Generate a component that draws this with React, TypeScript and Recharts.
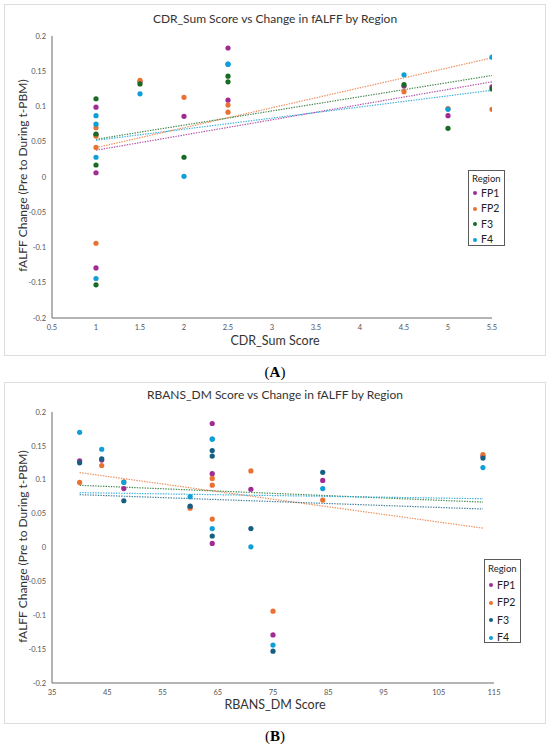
import React from 'react';
import {
  ScatterChart, Scatter, XAxis, YAxis, ReferenceLine, Legend,
} from 'recharts';

// one entry per participant, same order in every array
const regions = ['FP1', 'FP2', 'F3', 'F4'];
const cdrSum = [5.5, 4.5, 5, 1, 2.5, 2.5, 1, 2, 1, 1, 1.5];
const rbansDm = [40, 44, 48, 60, 64, 64, 64, 71, 75, 84, 113];
const fp1 = [0.128, 0.129, 0.087, 0.06, 0.183, 0.109, 0.006, 0.086, -0.129, 0.099, 0.135];
const fp2 = [0.096, 0.121, 0.097, 0.058, 0.102, 0.092, 0.042, 0.113, -0.094, 0.07, 0.137];
const f3 = [0.125, 0.131, 0.069, 0.061, 0.143, 0.135, 0.017, 0.028, -0.153, 0.111, 0.132];
const f4 = [0.17, 0.145, 0.096, 0.075, 0.16, 0.16, 0.028, 0.001, -0.144, 0.087, 0.118];
const regionValues = [fp1, fp2, f3, f4];

const yTicks = [-0.2, -0.15, -0.1, -0.05, 0, 0.05, 0.1, 0.15, 0.2];
const cdrTicks = [0.5, 1, 1.5, 2, 2.5, 3, 3.5, 4, 4.5, 5, 5.5];
const rbansTicks = [35, 45, 55, 65, 75, 85, 95, 105, 115];

// trendline end points
const cdrTrendX = [1, 5.5];
const cdrTrendFP1 = [0.038, 0.135];
const cdrTrendFP2 = [0.0416, 0.169];
const cdrTrendF3 = [0.0535, 0.144];
const cdrTrendF4 = [0.052, 0.123];
const rbansTrendX = [40, 113];
const rbansTrendOrange = [0.1106, 0.0286];
const rbansTrendGreen = [0.0918, 0.067];
const rbansTrendCyan = [0.081, 0.072];
const rbansTrendNavy = [0.078, 0.0568];

const PURPLE = '#A02B93';
const ORANGE = '#E97132';
const GREEN = '#196B24';
const NAVY = '#156082';
const CYAN = '#0F9ED5';

const FONT = 'Lato, "Noto Sans", sans-serif';

interface PanelProps {
  top: number;
  height: number;
  title: string;
  xLabel: string;
  xValues: number[];
  xDomain: [number, number];
  xTicks: number[];
  colors: string[];
  trendX: number[];
  trends: { y: number[]; color: string }[];
  margin: { top: number; right: number; bottom: number; left: number };
  titleY: number;
  xLabelY: number;
  legendBox: { left: number; top: number; width: number; height: number; row: number };
}

const RegionLegend = ({ colors, box }: { colors: string[]; box: PanelProps['legendBox'] }) => (
  <div
    style={{
      width: box.width, height: box.height, boxSizing: 'border-box',
      border: '1px solid #5a5a5a', background: '#fff', fontFamily: FONT,
      paddingLeft: 4, paddingTop: 1, color: '#222',
    }}
  >
    <div style={{ fontSize: 9.5, height: box.row - 2, lineHeight: `${box.row - 2}px`, marginLeft: -1 }}>Region</div>
    {regions.map((r, i) => (
      <div key={r} style={{ fontSize: 10.5, height: box.row, lineHeight: `${box.row}px`, display: 'flex', alignItems: 'center' }}>
        <span style={{ width: 4, height: 4, borderRadius: 2, background: colors[i], display: 'inline-block', marginRight: 4 }} />
        {r}
      </div>
    ))}
  </div>
);

const Panel = (p: PanelProps) => {
  const chartW = 540;
  const plotMid = p.margin.top + (p.height - p.margin.top - p.margin.bottom - 20) / 2;
  return (
    <div
      style={{
        position: 'absolute', left: 4, top: p.top - 1, width: chartW, height: p.height,
        border: '1px solid #dedede', background: '#fff',
      }}
    >
      <div style={{ position: 'absolute', left: 0, width: chartW, top: p.titleY - 8, textAlign: 'center', fontFamily: FONT, fontSize: 12, color: '#333' }}>
        {p.title}
      </div>
      <div style={{ position: 'absolute', left: 0, width: chartW, top: p.xLabelY - 9, textAlign: 'center', fontFamily: FONT, fontSize: 12.5, color: '#333' }}>
        {p.xLabel}
      </div>
      <div
        style={{
          position: 'absolute', left: 17 - 120, top: plotMid - 9, width: 240, textAlign: 'center',
          transform: 'rotate(-90deg)', fontFamily: FONT, fontSize: 12, color: '#333',
        }}
      >
        fALFF Change (Pre to During t-PBM)
      </div>
      <ScatterChart width={chartW} height={p.height} margin={p.margin}>
        <XAxis
          type="number" dataKey="x" domain={p.xDomain} ticks={p.xTicks} allowDataOverflow
          height={20} tickLine={false} tickSize={4} tickMargin={3}
          stroke="#6b6b6b" tick={{ fontSize: 7.5, fill: '#555', fontFamily: FONT }}
        />
        <YAxis
          type="number" dataKey="y" domain={[-0.2, 0.2]} ticks={yTicks} allowDataOverflow
          width={30} tickLine={false} tickSize={4} tickMargin={2}
          stroke="#6b6b6b" tick={{ fontSize: 7.5, fill: '#555', fontFamily: FONT }}
        />
        {p.trends.map((t, i) => (
          <ReferenceLine
            key={i}
            segment={[{ x: p.trendX[0], y: t.y[0] }, { x: p.trendX[1], y: t.y[1] }]}
            stroke={t.color} strokeOpacity={0.8} strokeWidth={1.2} strokeDasharray="1.4 1.2" ifOverflow="visible"
          />
        ))}
        {regions.map((r, i) => (
          <Scatter
            key={r}
            name={r}
            data={p.xValues.map((x, k) => ({ x, y: regionValues[i][k] }))}
            fill={p.colors[i]}
            isAnimationActive={false}
            shape={(s: any) => <circle cx={s.cx} cy={s.cy} r={2.6} fill={p.colors[i]} />}
          />
        ))}
        <Legend
          layout="vertical" align="center" verticalAlign="middle"
          wrapperStyle={{ left: p.legendBox.left, top: p.legendBox.top, width: p.legendBox.width, height: p.legendBox.height }}
          content={() => <RegionLegend colors={p.colors} box={p.legendBox} />}
        />
      </ScatterChart>
    </div>
  );
};

export default function App() {
  return (
    <div style={{ position: 'absolute', left: 0, top: 0, width: 550, height: 749, background: '#fff' }}>
      <Panel
        top={5} height={350}
        title="CDR_Sum Score vs Change in fALFF by Region"
        xLabel="CDR_Sum Score"
        xValues={cdrSum} xDomain={[0.5, 5.5]} xTicks={cdrTicks}
        colors={[PURPLE, ORANGE, GREEN, CYAN]}
        trendX={cdrTrendX}
        trends={[
          { y: cdrTrendFP1, color: PURPLE },
          { y: cdrTrendFP2, color: ORANGE },
          { y: cdrTrendF3, color: GREEN },
          { y: cdrTrendF4, color: CYAN },
        ]}
        margin={{ top: 31, right: 53, bottom: 17, left: 17 }}
        titleY={14} xLabelY={337}
        legendBox={{ left: 463, top: 165, width: 37, height: 76, row: 15.5 }}
      />
      <div style={{ position: 'absolute', left: 0, width: 550, top: 364, textAlign: 'center', fontFamily: '"Liberation Serif", serif', fontSize: 15 }}>
        (<b>A</b>)
      </div>
      <Panel
        top={383} height={340}
        title="RBANS_DM Score vs Change in fALFF by Region"
        xLabel="RBANS_DM Score"
        xValues={rbansDm} xDomain={[35, 115]} xTicks={rbansTicks}
        colors={[PURPLE, ORANGE, NAVY, CYAN]}
        trendX={rbansTrendX}
        trends={[
          { y: rbansTrendOrange, color: ORANGE },
          { y: rbansTrendGreen, color: GREEN },
          { y: rbansTrendCyan, color: CYAN },
          { y: rbansTrendNavy, color: NAVY },
        ]}
        margin={{ top: 29, right: 51, bottom: 20, left: 17 }}
        titleY={12} xLabelY={323}
        legendBox={{ left: 479, top: 176, width: 37, height: 84, row: 17.5 }}
      />
      <div style={{ position: 'absolute', left: 0, width: 550, top: 728, textAlign: 'center', fontFamily: '"Liberation Serif", serif', fontSize: 15 }}>
        (<b>B</b>)
      </div>
    </div>
  );
}
